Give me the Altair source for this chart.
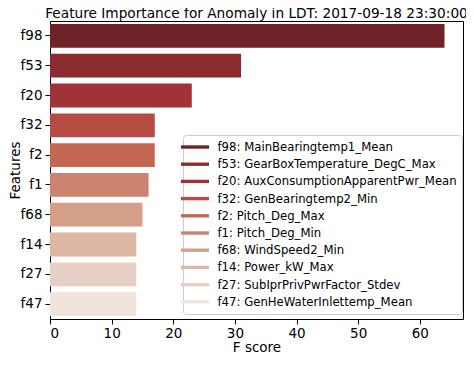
import altair as alt
import pandas as pd

features = ["f98", "f53", "f20", "f32", "f2", "f1", "f68", "f14", "f27", "f47"]
scores = [64, 31, 23, 17, 17, 16, 15, 14, 14, 14]
names = ["MainBearingtemp1_Mean", "GearBoxTemperature_DegC_Max",
         "AuxConsumptionApparentPwr_Mean", "GenBearingtemp2_Min",
         "Pitch_Deg_Max", "Pitch_Deg_Min", "WindSpeed2_Min", "Power_kW_Max",
         "SubIprPrivPwrFactor_Stdev", "GenHeWaterInlettemp_Mean"]
colors = ["#6f2228", "#8b2a2f", "#a13236", "#b64b44", "#c46752",
          "#cc8470", "#d49f88", "#dcb7a6", "#e6d0c5", "#f2e4dd"]
x_ticks = [0, 10, 20, 30, 40, 50, 60]

labels = [f"{f}: {n}" for f, n in zip(features, names)]
df = pd.DataFrame({"feature": features, "score": scores, "label": labels})

font = "DejaVu Sans"
axis_common = dict(tickSize=5, tickColor="black", domain=False,
                   labelFontSize=13.5, titleFontSize=13.5, labelColor="black",
                   titleColor="black", titleFontWeight="normal",
                   labelFont=font, titleFont=font)

chart = alt.Chart(df).mark_bar().encode(
    x=alt.X("score:Q", title="F score",
            scale=alt.Scale(domain=[0, 67], nice=False, zero=True),
            axis=alt.Axis(values=x_ticks, grid=False, labelPadding=2,
                          titlePadding=1, **axis_common)),
    y=alt.Y("feature:N", sort=features, title="Features",
            scale=alt.Scale(paddingInner=0.2, paddingOuter=0.1),
            axis=alt.Axis(labelPadding=3, titlePadding=1,
                          titleBaseline="alphabetic", **axis_common)),
    color=alt.Color("label:N", sort=labels,
                    scale=alt.Scale(domain=labels, range=colors),
                    legend=alt.Legend(title=None, orient="none", legendX=133, legendY=114,
                                      symbolType="M-2,-0.24H2V0.24H-2Z", symbolSize=196,
                                      symbolStrokeWidth=0, rowPadding=3.2,
                                      labelFontSize=11.7, labelFont=font,
                                      labelColor="black", labelOffset=15.5,
                                      labelLimit=400,
                                      padding=5, strokeColor="#cccccc",
                                      cornerRadius=3, fillColor="white")),
).properties(
    width=413, height=298,
    title=alt.TitleParams("Feature Importance for Anomaly in LDT: 2017-09-18 23:30:00",
                          fontSize=13.7, font=font, fontWeight="normal",
                          color="black", offset=0, anchor="middle"),
    padding={"left": 42, "top": 13, "right": 3, "bottom": 36},
    autosize=alt.AutoSizeParams(type="none"),
).configure_view(stroke="black", strokeWidth=1)

chart.save("out.html", embed_options={"renderer": "svg", "actions": False})
